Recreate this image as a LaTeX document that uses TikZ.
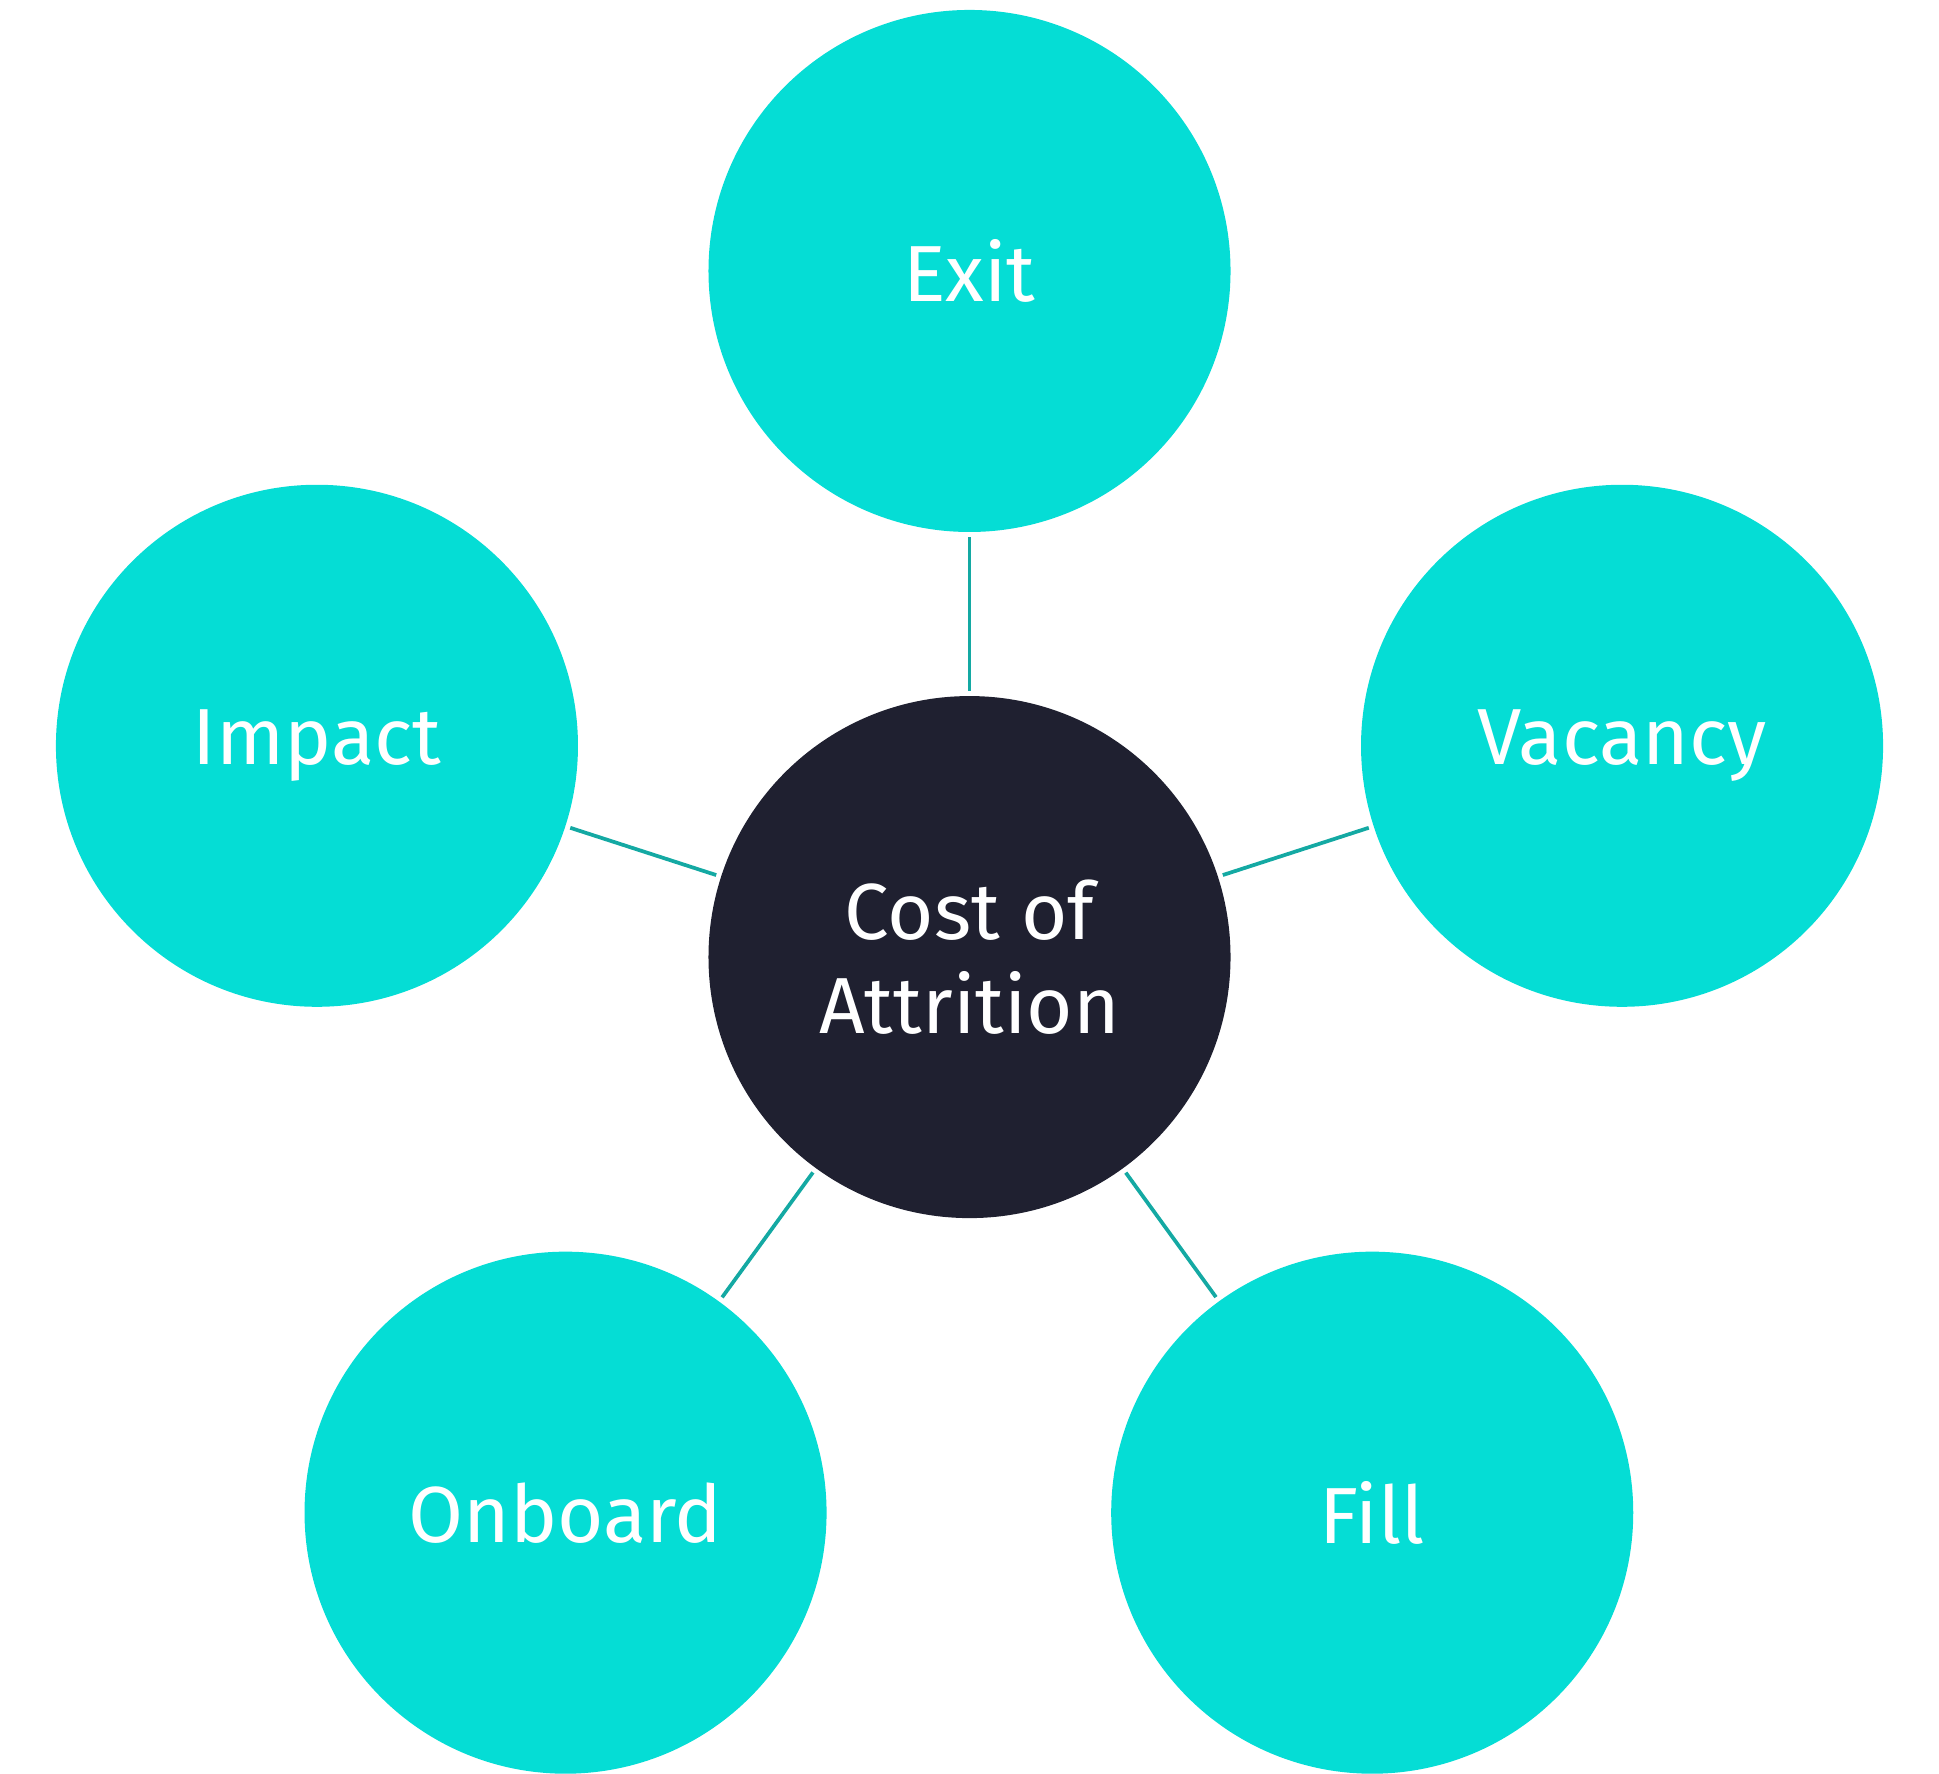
\documentclass[tikz,border=0pt]{standalone}
\usepackage{fontspec}
\setmainfont{Fira Sans}
\usetikzlibrary{positioning}
\definecolor{aqua}{HTML}{05DDD5}
\definecolor{navy}{HTML}{1F2030}
\definecolor{linkteal}{HTML}{14A9A3}
\begin{document}
\begin{tikzpicture}[
    x=1pt, y=-1pt,
    bubble/.style={circle, fill=aqua, minimum size=420pt, inner sep=0pt, align=center, text=white, font=\fontsize{64}{76}\selectfont},
    hub/.style={bubble, fill=navy},
    link/.style={draw=linkteal, line width=3pt, shorten <=4pt, shorten >=4pt}
]
    \useasboundingbox (0,0) rectangle (1560,1427);
    % Nodes
    \node[hub] (cost) at (780,770) {Cost of\\Attrition};
    \node[bubble] (exit) at (780,218) {Exit};
    \node[bubble] (impact) at (255,600) {Impact};
    \node[bubble] (vacancy) at (1305,600) {Vacancy};
    \node[bubble] (onboard) at (455,1217) {Onboard};
    \node[bubble] (fill) at (1104,1217) {Fill};

    % Connectors
    \draw[link] (cost) -- (exit);
    \draw[link] (cost) -- (impact);
    \draw[link] (cost) -- (vacancy);
    \draw[link] (cost) -- (onboard);
    \draw[link] (cost) -- (fill);
\end{tikzpicture}
\end{document}
